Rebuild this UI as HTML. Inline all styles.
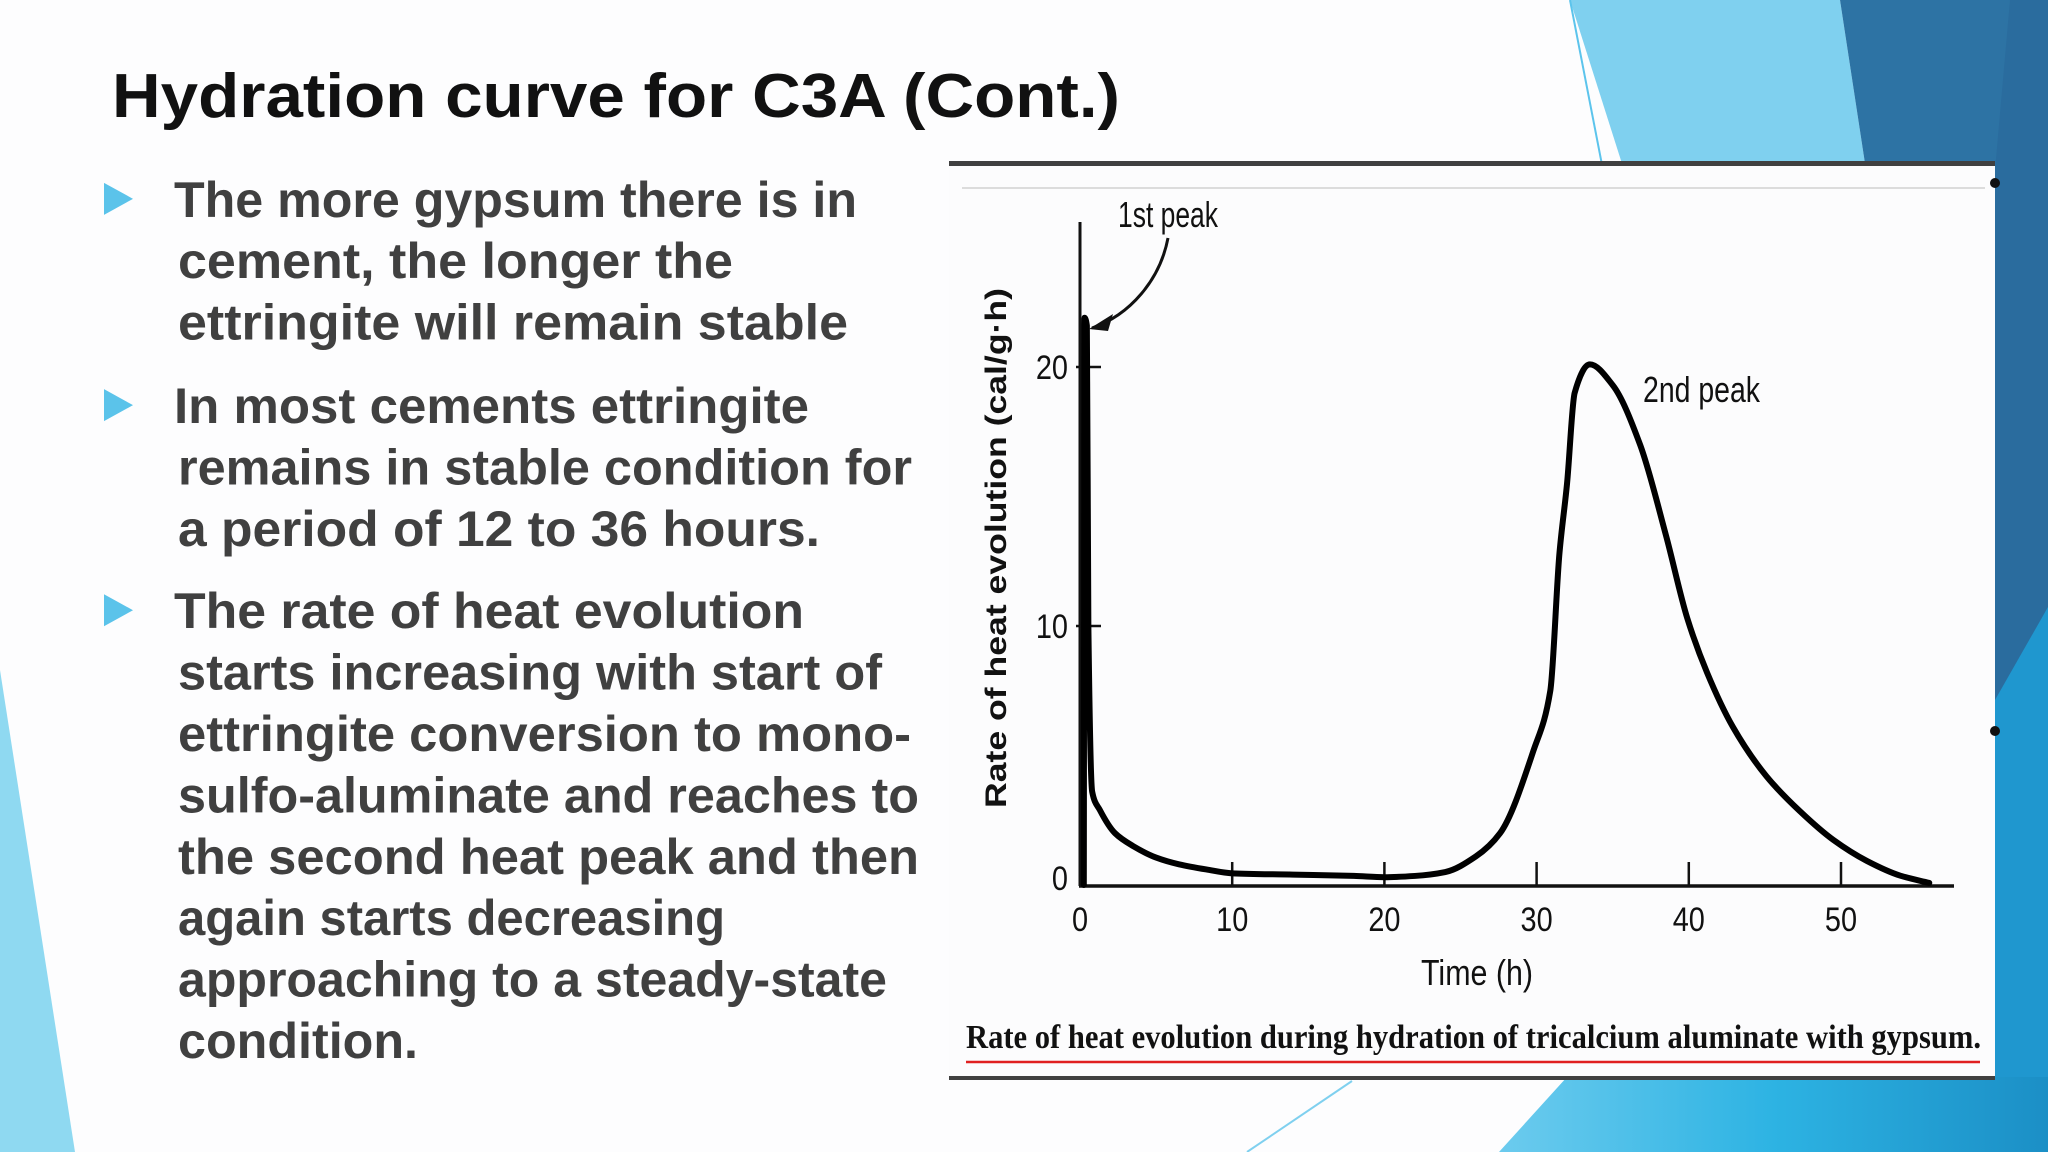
<!DOCTYPE html>
<html><head><meta charset="utf-8">
<style>
html,body{margin:0;padding:0;background:#fff;}
svg{display:block;}
</style></head>
<body>
<svg id="slide" width="2048" height="1152" viewBox="0 0 2048 1152" xmlns="http://www.w3.org/2000/svg">
  <defs>
    <linearGradient id="gBR" x1="0" y1="0" x2="1" y2="0">
      <stop offset="0" stop-color="#6ccbee"/>
      <stop offset="0.5" stop-color="#2db3e3"/>
      <stop offset="1" stop-color="#1b8fc6"/>
    </linearGradient>
  </defs>
  <rect x="0" y="0" width="2048" height="1152" fill="#fdfdfe"/>
  <g>
    <polygon points="1570,0 1840,0 1866,170 1624,170" fill="#7fd0ef"/>
    <polygon points="1840,0 2048,0 2048,1152 1990,1152 1866,170" fill="#2d73a4"/>
    <polygon points="2010,0 2048,0 2048,620 1995,700 1995,170" fill="#2a6c9e"/>
    <polygon points="1995,700 2048,607 2048,1152 1995,1152" fill="#1f97cf"/>
    <line x1="1570" y1="0" x2="1603" y2="170" stroke="#5cc4ec" stroke-width="2"/>
    <polygon points="1499,1152 1567,1077 2048,1077 2048,1152" fill="url(#gBR)"/>
    <line x1="1247" y1="1152" x2="1352" y2="1081" stroke="#7fd0ef" stroke-width="2"/>
    <polygon points="0,670 75,1152 0,1152" fill="#8fd9f1"/>
  </g>

  <text x="112" y="117" font-family="'Liberation Sans', sans-serif" font-weight="bold" font-size="62" fill="#111" textLength="1008" lengthAdjust="spacingAndGlyphs">Hydration curve for C3A (Cont.)</text>

  <g id="bullets" font-family="'Liberation Sans', sans-serif" font-weight="bold" font-size="50" fill="#404040"></g>

  <g>
    <rect x="949" y="163" width="1046" height="914" fill="#fcfcfd"/>
    <rect x="949" y="161" width="1046" height="5" fill="#404040"/>
    <rect x="949" y="1076" width="1046" height="4" fill="#404040"/>
    <line x1="962" y1="188" x2="1985" y2="188" stroke="#dcdcdc" stroke-width="2"/>
    <circle cx="1995" cy="183" r="5" fill="#111"/>
    <circle cx="1995" cy="731" r="5" fill="#111"/>
  </g>

  <g id="chart"></g>

  <text x="966" y="1048" font-family="'Liberation Serif', serif" font-weight="bold" font-size="34" fill="#111" textLength="1015" lengthAdjust="spacingAndGlyphs">Rate of heat evolution during hydration of tricalcium aluminate with gypsum.</text>
  <line x1="966" y1="1062" x2="1980" y2="1062" stroke="#e02020" stroke-width="2.5"/>
</svg>

<script>
const NS = "http://www.w3.org/2000/svg";

const bulletLines = [
  ["The more gypsum there is in", 683, true],
  ["cement, the longer the", 555, false],
  ["ettringite will remain stable", 670, false],
  ["In most cements ettringite", 635, true],
  ["remains in stable condition for", 734, false],
  ["a period of 12 to 36 hours.", 642, false],
  ["The rate of heat evolution", 630, true],
  ["starts increasing with start of", 704, false],
  ["ettringite conversion to mono-", 733, false],
  ["sulfo-aluminate and reaches to", 741, false],
  ["the second heat peak and then", 741, false],
  ["again starts decreasing", 547, false],
  ["approaching to a steady-state", 709, false],
  ["condition.", 240, false]
];
const bulletBaselines = [166, 213, 260, 324, 371, 418, 481, 528, 575, 622, 669, 716, 763, 810];

const bg = document.getElementById('bullets');
bulletLines.forEach((ln, i) => {
  const y = bulletBaselines[i] * 1.3061;
  const t = document.createElementNS(NS, 'text');
  
  
  t.setAttribute('x', ln[2] ? 174 : 178);
  t.setAttribute('y', y);
  t.setAttribute('textLength', ln[1]);
  t.setAttribute('lengthAdjust', 'spacingAndGlyphs');
  t.textContent = ln[0];
  bg.appendChild(t);
  if (ln[2]) {
    const p = document.createElementNS(NS, 'polygon');
    
    
    const cy = y - 18;
    p.setAttribute('points', `104,${cy-16} 133,${cy} 104,${cy+16}`);
    p.setAttribute('fill', '#5bc3ea');
    bg.appendChild(p);
  }
});

// ---- chart data ----
const timeHours = [0.25,0.3,0.45,0.55,0.8,1.3,2.3,3.5,5,6.5,8.3,10,14,18,20,22,24,26,27.6,29.8,30.9,31.5,32.0,32.5,33.5,35.0,36.8,38.5,39.9,41.2,42.9,45.1,47.3,49.5,51.7,53.9,55.8];
const heatRate  = [0,21.9,21.6,10,3.6,2.9,2.0,1.5,1.06,0.8,0.6,0.45,0.4,0.35,0.3,0.35,0.5,1.1,2.0,5.2,7.5,12.8,15.5,19.0,20.1,19.3,17.0,13.5,10.3,8.2,6.1,4.2,2.85,1.74,0.93,0.36,0.08];
const xTicks = [0,10,20,30,40,50];
const xTickLabels = ["0","10","20","30","40","50"];
const yTicks = [0,10,20];
const yTickLabels = ["0","10","20"];

const X = t => 1080 + t * 15.22;
const Y = v => 885 - v * 25.9;

const ch = document.getElementById('chart');
function el(tag, attrs) {
  const e = document.createElementNS(NS, tag);
  for (const k in attrs) e.setAttribute(k, attrs[k]);
  ch.appendChild(e);
  return e;
}

const ya = el('line', {x1: X(0), y1: 222, x2: X(0), y2: Y(0)+1, stroke: '#111', 'stroke-width': 3});


const xa = el('line', {x1: X(0)-1, y1: Y(0)+1, x2: 1954, y2: Y(0)+1, stroke: '#111', 'stroke-width': 3.5});



xTicks.forEach((v, i) => {
  if (v > 0) {
    const tk = el('line', {x1: X(v), y1: Y(0)-23, x2: X(v), y2: Y(0), stroke: '#111', 'stroke-width': 2.5});
    
    
  }
  const lb = el('text', {x: X(v), y: Y(0)+46, 'text-anchor': 'middle', 'font-family': "'Liberation Sans', sans-serif", 'font-size': 34, fill: '#111', transform: `translate(${X(v)},0) scale(0.85,1) translate(${-X(v)},0)`});
  lb.textContent = xTickLabels[i];
  
  
});
yTicks.forEach((v, i) => {
  if (v > 0) {
    const tk = el('line', {x1: X(0)-4, y1: Y(v), x2: X(0)+21, y2: Y(v), stroke: '#111', 'stroke-width': 2.5});
    
    
  }
  const lb = el('text', {x: 1068, y: Y(v)+ (v === 0 ? 5 : 12), 'text-anchor': 'end', 'font-family': "'Liberation Sans', sans-serif", 'font-size': 34, fill: '#111', transform: `translate(1068,0) scale(0.85,1) translate(-1068,0)`});
  lb.textContent = yTickLabels[i];
  
  
});

// monotone cubic curve
const px = timeHours.map(X), py = heatRate.map(Y);
const n = px.length;
const dl = [], m = new Array(n);
for (let i = 0; i < n-1; i++) dl.push((py[i+1]-py[i])/(px[i+1]-px[i]));
m[0] = dl[0]; m[n-1] = dl[n-2];
for (let i = 1; i < n-1; i++) {
  if (dl[i-1]*dl[i] <= 0) m[i] = 0;
  else {
    const h0 = px[i]-px[i-1], h1 = px[i+1]-px[i];
    const w1 = 2*h1+h0, w2 = h1+2*h0;
    m[i] = (w1+w2)/(w1/dl[i-1] + w2/dl[i]);
  }
}
let d = `M${px[0]},${py[0]}`;
for (let i = 0; i < n-1; i++) {
  const h = (px[i+1]-px[i])/3;
  d += ` C${px[i]+h},${py[i]+m[i]*h} ${px[i+1]-h},${py[i+1]-m[i+1]*h} ${px[i+1]},${py[i+1]}`;
}
const curve = el('path', {d: d, fill: 'none', stroke: '#000', 'stroke-width': 6, 'stroke-linejoin': 'round', 'stroke-linecap': 'round'});



const a1 = el('text', {x: 1118, y: 227, 'font-family': "'Liberation Sans', sans-serif", 'font-size': 36, fill: '#111', textLength: 100, lengthAdjust: 'spacingAndGlyphs'});
a1.textContent = '1st peak';


const arr = el('path', {d: 'M1168,238 C1160,280 1130,315 1092,328', fill: 'none', stroke: '#111', 'stroke-width': 3});


const ah = el('polygon', {points: '1089,329 1113,314 1108,331', fill: '#111'});



const a2 = el('text', {x: 1643, y: 402, 'font-family': "'Liberation Sans', sans-serif", 'font-size': 36, fill: '#111', textLength: 117, lengthAdjust: 'spacingAndGlyphs'});
a2.textContent = '2nd peak';



const xt = el('text', {x: 1477, y: 985, 'text-anchor': 'middle', 'font-family': "'Liberation Sans', sans-serif", 'font-size': 36, fill: '#111', textLength: 112, lengthAdjust: 'spacingAndGlyphs'});
xt.textContent = 'Time (h)';



const yt = el('text', {x: 0, y: 0, 'text-anchor': 'middle', 'font-family': "'Liberation Sans', sans-serif", 'font-weight': 'bold', 'font-size': 30, fill: '#111', textLength: 520, lengthAdjust: 'spacingAndGlyphs', transform: 'translate(1006,548) rotate(-90)'});
yt.textContent = 'Rate of heat evolution (cal/g·h)';


</script>
</body></html>
